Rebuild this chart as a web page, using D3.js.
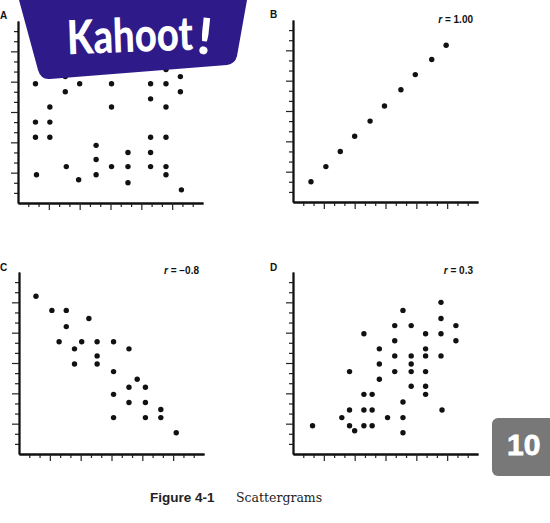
<!DOCTYPE html>
<html>
<head>
<meta charset="utf-8">
<script src="https://cdn.jsdelivr.net/npm/d3@7"></script>
<style>
	html, body { margin: 0; padding: 0; background: #fff; }
	svg { display: block; }
</style>
</head>
<body>
<div class="container"></div>
<script>
// points, in tick units (one tick = 1)
var panelA = [
	[1.7, 11.8], [6.0, 11.8], [9.1, 11.8], [12.9, 11.8], [14.4, 11.8],
	[4.6, 12.5], [15.8, 12.5], [14.4, 13.2],
	[4.6, 11.0], [15.8, 11.0],
	[12.9, 10.3],
	[3.1, 9.5], [9.1, 9.5], [14.4, 9.5],
	[1.7, 8.0], [3.1, 8.0],
	[1.7, 6.5], [3.1, 6.5], [12.9, 6.5], [14.4, 6.5],
	[7.6, 5.7],
	[10.7, 5.0], [12.9, 5.0],
	[7.6, 4.3],
	[4.7, 3.6], [9.1, 3.6], [10.7, 3.6], [12.9, 3.6], [14.4, 3.6],
	[1.8, 2.8], [7.6, 2.8], [14.4, 2.8],
	[5.9, 2.3],
	[10.7, 2.0],
	[15.9, 1.3]
];
var panelB = [
	[1.75, 2.0], [3.2, 3.5], [4.6, 5.0], [6.0, 6.5], [7.5, 8.0],
	[8.9, 9.5], [10.5, 11.1], [11.9, 12.6], [13.5, 14.1], [14.9, 15.5]
];
var panelC = [
	[1.65, 15.6], [3.2, 14.2], [4.6, 14.2], [4.6, 12.6], [6.8, 13.4],
	[3.9, 11.1], [6.1, 11.1], [7.6, 11.1], [9.2, 11.1],
	[5.4, 10.4], [10.7, 10.4], [7.6, 9.7],
	[5.4, 8.9], [7.6, 8.9], [9.2, 8.15], [11.5, 7.4],
	[10.7, 6.6], [12.3, 6.6], [9.2, 5.9],
	[10.7, 5.1], [12.3, 5.1], [13.8, 4.4],
	[9.2, 3.6], [12.3, 3.6], [13.8, 3.6], [15.3, 2.1]
];
var panelD = [
	[1.9, 2.8], [4.75, 3.6], [5.5, 4.35], [5.5, 2.8], [6.0, 2.3], [5.5, 8.15],
	[6.9, 11.9], [6.9, 5.9], [6.9, 4.35], [6.9, 2.8],
	[7.7, 5.9], [7.7, 4.35], [7.7, 2.8],
	[8.4, 10.4], [8.4, 8.9], [8.4, 7.4], [9.2, 3.6],
	[9.9, 12.7], [9.9, 11.2], [9.9, 9.7], [9.9, 8.15],
	[10.7, 14.2], [10.7, 5.15], [10.7, 3.6], [10.7, 2.1],
	[11.5, 12.7], [11.5, 9.7], [11.5, 8.9], [11.5, 8.15], [11.5, 6.7],
	[12.9, 11.9], [12.9, 10.4], [12.9, 9.7], [12.9, 8.15], [12.9, 6.7], [12.9, 5.9],
	[14.4, 15.0], [14.4, 13.4], [14.4, 11.9], [14.4, 9.7], [14.5, 4.35],
	[15.85, 12.7], [15.85, 11.2]
];
var panelLetters = ['A', 'B', 'C', 'D'];
var rLabels = [null, '1.00', '\u22120.8', '0.3'];
var ticks = d3.range(1, 18);

var majorTicks = ticks.filter(t => t % 3 === 0),
	minorTicks = ticks.filter(t => t % 3 !== 0);

var plotW = 185, plotH = 182;

var svg = d3.select('.container')
	.append('svg')
	.attr('width', 550)
	.attr('height', 523);

var xScale = d3.scaleLinear()
	.domain([0, 18])
	.range([0, plotW]);

var yScale = d3.scaleLinear()
	.domain([0, 18])
	.range([plotH, 0]);

// where each panel's origin sits
var panels = [
	{ pts: panelA, left: 18, bottom: 203 },
	{ pts: panelB, left: 293, bottom: 202 },
	{ pts: panelC, left: 19, bottom: 454 },
	{ pts: panelD, left: 293, bottom: 454 }
];

panels.forEach(function (p, i) {
	var g = svg.append('g')
		.attr('transform', 'translate(' + p.left + ',' + (p.bottom - plotH) + ')');

	[[minorTicks, 4], [majorTicks, 7]].forEach(function (t) {
		g.append('g')
			.attr('class', 'axis')
			.attr('transform', 'translate(0,' + plotH + ')')
			.call(d3.axisBottom(xScale).tickValues(t[0]).tickSize(t[1]).tickSizeOuter(0).tickFormat(''));
		g.append('g')
			.attr('class', 'axis')
			.call(d3.axisLeft(yScale).tickValues(t[0]).tickSize(t[1]).tickSizeOuter(0).tickFormat(''));
	});

	g.selectAll('.dot')
		.data(p.pts)
		.enter().append('circle')
		.attr('class', 'dot')
		.attr('cx', d => xScale(d[0]))
		.attr('cy', d => yScale(d[1]))
		.attr('r', 2.7)
		.attr('fill', '#111');

	g.append('text')
		.attr('x', -p.left + (i % 2 === 0 ? 0 : 270))
		.attr('y', i < 2 ? -2 : -1)
		.attr('font-family', 'Liberation Sans, Arial, sans-serif')
		.attr('font-weight', 'bold')
		.attr('font-size', 10)
		.attr('fill', '#111')
		.text(panelLetters[i]);

	if (rLabels[i]) {
		var t = g.append('text')
			.attr('x', 180)
			.attr('y', i < 2 ? 3 : 2)
			.attr('text-anchor', 'end')
			.attr('font-family', 'Liberation Sans, Arial, sans-serif')
			.attr('font-weight', 'bold')
			.attr('font-size', 10)
			.attr('fill', '#111');
		t.append('tspan').attr('font-style', 'italic').text('r');
		t.append('tspan').text(' = ' + rLabels[i]);
	}
});

svg.selectAll('.axis path')
	.attr('stroke', '#111')
	.attr('stroke-width', 1.8);
svg.selectAll('.axis line')
	.attr('stroke', '#222')
	.attr('stroke-width', 1.2);

// caption
var cap = svg.append('text')
	.attr('x', 150)
	.attr('y', 502)
	.attr('fill', '#222');
cap.append('tspan')
	.attr('font-family', 'Liberation Sans, Arial, sans-serif')
	.attr('font-weight', 'bold')
	.attr('font-size', 13.5)
	.text('Figure 4-1');
cap.append('tspan')
	.attr('x', 236)
	.attr('font-family', 'DejaVu Serif, serif')
	.attr('font-size', 12.5)
	.text('Scattergrams');

// Kahoot banner
svg.append('path')
	.attr('d', 'M19,0 L247,0 L237,56 Q235,64 227,65 L50,79 Q41,80 38,70 Z')
	.attr('fill', '#2f1a8a');

svg.append('text')
	.attr('x', 67)
	.attr('y', 52)
	.attr('transform', 'rotate(-2,130,40)')
	.attr('font-family', 'Lato, sans-serif')
	.attr('font-weight', 900)
	.attr('font-size', 47)
	.attr('textLength', 126)
	.attr('lengthAdjust', 'spacingAndGlyphs')
	.attr('fill', '#fff')
	.text('Kahoot');

svg.append('text')
	.attr('x', 198)
	.attr('y', 54)
	.attr('transform', 'rotate(6,205,35)')
	.attr('font-family', 'Lato, sans-serif')
	.attr('font-weight', 900)
	.attr('font-size', 50)
	.attr('fill', '#fff')
	.text('!');

// question number badge
svg.append('rect')
	.attr('x', 492)
	.attr('y', 418)
	.attr('width', 80)
	.attr('height', 58)
	.attr('rx', 6)
	.attr('fill', '#787878');

svg.append('text')
	.attr('x', 507)
	.attr('y', 455)
	.attr('font-family', 'Liberation Sans, Arial, sans-serif')
	.attr('font-weight', 'bold')
	.attr('font-size', 30)
	.attr('fill', '#fff')
	.attr('stroke', '#fff')
	.attr('stroke-width', 0.8)
	.text('10');
</script>
</body>
</html>
